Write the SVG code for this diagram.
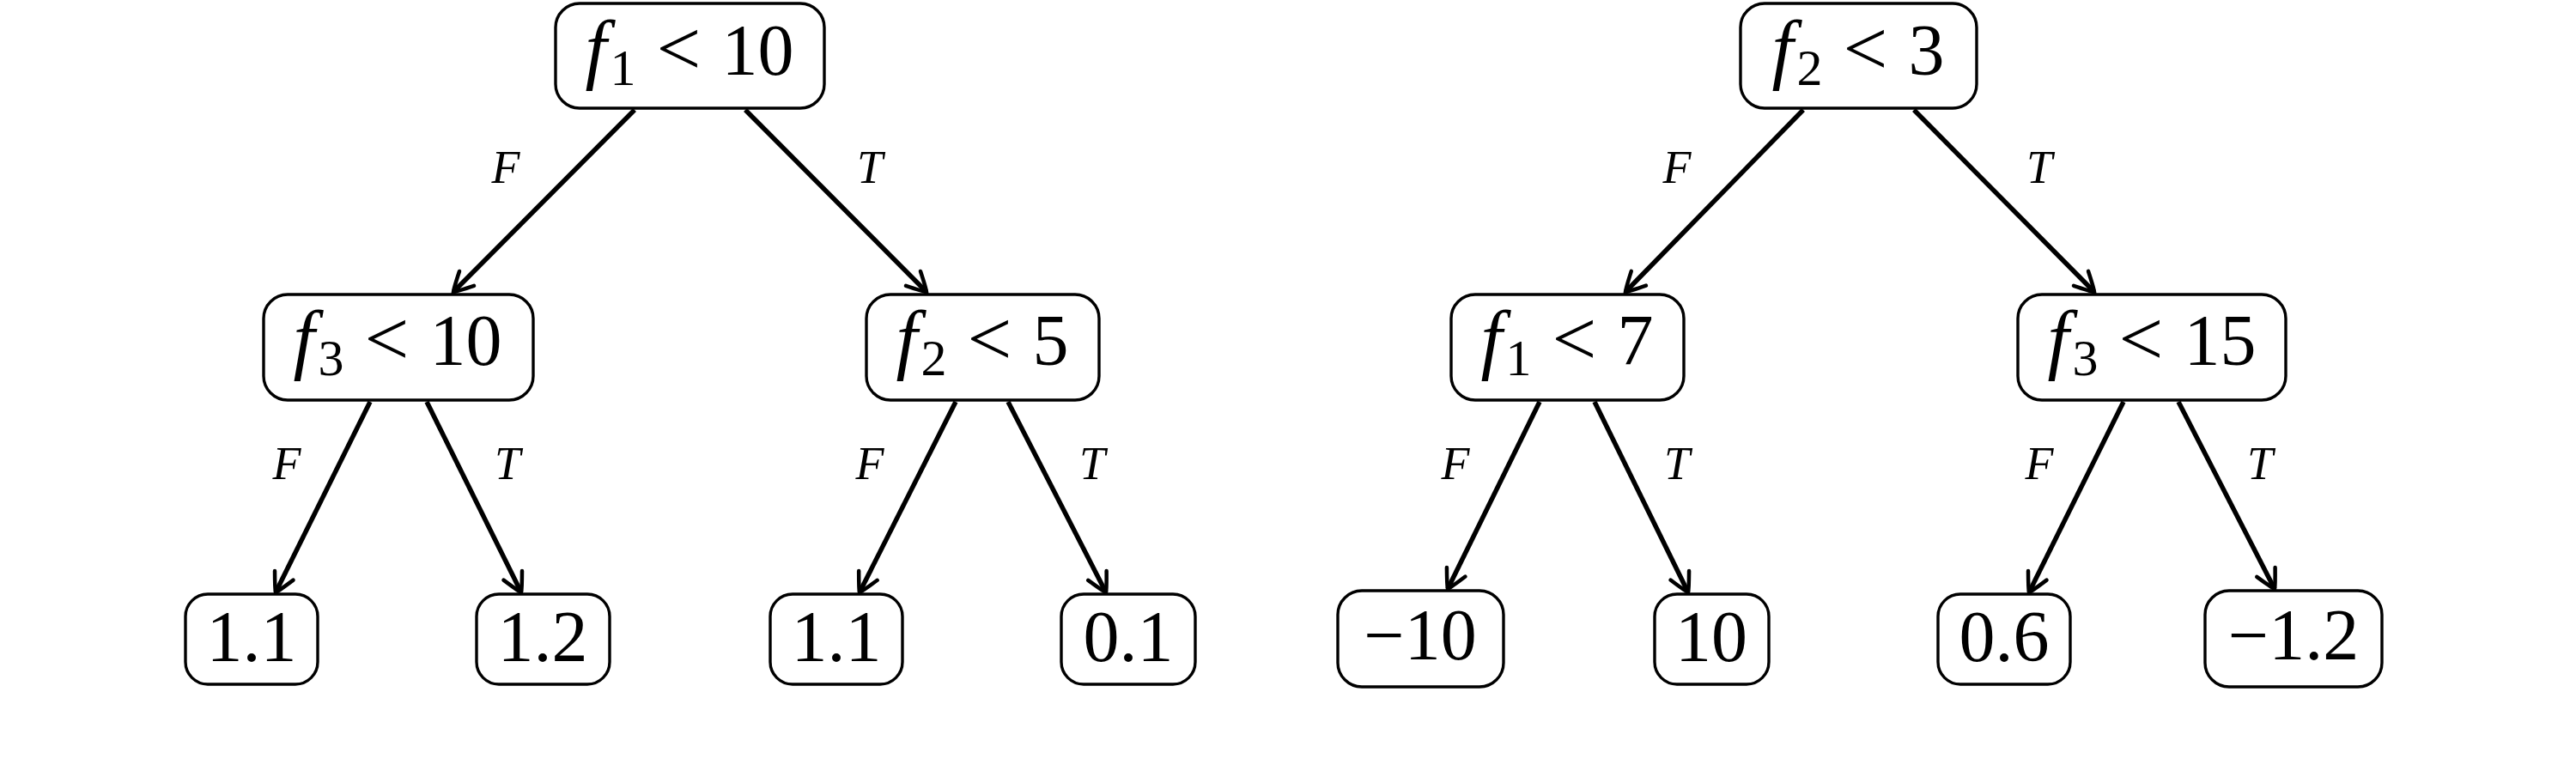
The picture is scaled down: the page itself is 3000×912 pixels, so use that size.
<svg xmlns="http://www.w3.org/2000/svg" width="3000" height="912" viewBox="0 0 3000 912">
<style>
.box{fill:#fff;stroke:#000;stroke-width:3.4}
.t{font-family:"Liberation Serif",serif;font-size:84px;fill:#000;text-anchor:middle}
.i{font-style:italic;font-size:90px}
.s{font-size:60px}
.lt{font-size:92px}
.lbl{font-family:"Liberation Serif",serif;font-size:54px;font-style:italic;fill:#000;text-anchor:middle}
.e{stroke:#000;stroke-width:5.5;fill:none;marker-end:url(#arr)}
</style>
<defs>
<marker id="arr" markerUnits="userSpaceOnUse" viewBox="-26 -14 30 28" markerWidth="30" markerHeight="28" refX="0" refY="0" orient="auto" overflow="visible">
<path d="M -22 -12 C -12 -7 -4 -3 0 0 C -4 3 -12 7 -22 12" fill="none" stroke="#000" stroke-width="4.5" stroke-linecap="round"/>
</marker>
</defs>
<rect width="3000" height="912" fill="#fff"/>
<g id="connectors">
<line class="e" x1="739" y1="128" x2="528" y2="340"/>
<line class="e" x1="868" y1="128" x2="1079" y2="340"/>
<line class="e" x1="431" y1="468" x2="321" y2="690"/>
<line class="e" x1="497" y1="468" x2="607" y2="690"/>
<line class="e" x1="1113" y1="468" x2="1001" y2="690"/>
<line class="e" x1="1174" y1="468" x2="1288" y2="690"/>
<line class="e" x1="2100" y1="128" x2="1893" y2="340"/>
<line class="e" x1="2229" y1="128" x2="2439" y2="340"/>
<line class="e" x1="1793" y1="468" x2="1686" y2="686"/>
<line class="e" x1="1857" y1="468" x2="1966" y2="690"/>
<line class="e" x1="2473" y1="468" x2="2363" y2="690"/>
<line class="e" x1="2537" y1="468" x2="2649" y2="686"/>
<text class="lbl" x="589" y="213">F</text>
<text class="lbl" x="1013" y="213">T</text>
<text class="lbl" x="334" y="558">F</text>
<text class="lbl" x="591" y="558">T</text>
<text class="lbl" x="1013" y="558">F</text>
<text class="lbl" x="1272" y="558">T</text>
<text class="lbl" x="1953" y="213">F</text>
<text class="lbl" x="2375" y="213">T</text>
<text class="lbl" x="1695" y="558">F</text>
<text class="lbl" x="1953" y="558">T</text>
<text class="lbl" x="2375" y="558">F</text>
<text class="lbl" x="2632" y="558">T</text>
</g>
<g id="n_root_left">
<rect class="box" x="647" y="4" width="313" height="122" rx="28"/>
<text class="t" x="803" y="87"><tspan class="i">f</tspan><tspan class="s" dx="4" dy="12">1</tspan><tspan class="lt" dx="24" dy="-12">&lt;</tspan><tspan dx="24">10</tspan></text>
</g>
<g id="n_f3_10">
<rect class="box" x="307" y="343" width="314" height="123" rx="28"/>
<text class="t" x="463" y="425"><tspan class="i">f</tspan><tspan class="s" dx="4" dy="12">3</tspan><tspan class="lt" dx="24" dy="-12">&lt;</tspan><tspan dx="24">10</tspan></text>
</g>
<g id="n_f2_5">
<rect class="box" x="1009" y="343" width="271" height="123" rx="28"/>
<text class="t" x="1144" y="425"><tspan class="i">f</tspan><tspan class="s" dx="4" dy="12">2</tspan><tspan class="lt" dx="24" dy="-12">&lt;</tspan><tspan dx="24">5</tspan></text>
</g>
<g id="n_l1">
<rect class="box" x="216" y="692" width="154" height="105" rx="26"/>
<text class="t" x="293" y="770">1.1</text>
</g>
<g id="n_l2">
<rect class="box" x="555" y="692" width="155" height="105" rx="26"/>
<text class="t" x="632" y="770">1.2</text>
</g>
<g id="n_l3">
<rect class="box" x="897" y="692" width="154" height="105" rx="26"/>
<text class="t" x="974" y="770">1.1</text>
</g>
<g id="n_l4">
<rect class="box" x="1236" y="692" width="156" height="105" rx="26"/>
<text class="t" x="1314" y="770">0.1</text>
</g>
<g id="n_root_right">
<rect class="box" x="2027" y="4" width="275" height="122" rx="28"/>
<text class="t" x="2164" y="87"><tspan class="i">f</tspan><tspan class="s" dx="4" dy="12">2</tspan><tspan class="lt" dx="24" dy="-12">&lt;</tspan><tspan dx="24">3</tspan></text>
</g>
<g id="n_f1_7">
<rect class="box" x="1690" y="343" width="271" height="123" rx="28"/>
<text class="t" x="1825" y="425"><tspan class="i">f</tspan><tspan class="s" dx="4" dy="12">1</tspan><tspan class="lt" dx="24" dy="-12">&lt;</tspan><tspan dx="24">7</tspan></text>
</g>
<g id="n_f3_15">
<rect class="box" x="2350" y="343" width="312" height="123" rx="28"/>
<text class="t" x="2506" y="425"><tspan class="i">f</tspan><tspan class="s" dx="4" dy="12">3</tspan><tspan class="lt" dx="24" dy="-12">&lt;</tspan><tspan dx="24">15</tspan></text>
</g>
<g id="n_r1">
<rect class="box" x="1558" y="688" width="193" height="112" rx="28"/>
<text class="t" x="1654" y="768">−10</text>
</g>
<g id="n_r2">
<rect class="box" x="1927" y="692" width="133" height="105" rx="26"/>
<text class="t" x="1993" y="770">10</text>
</g>
<g id="n_r3">
<rect class="box" x="2257" y="692" width="154" height="105" rx="26"/>
<text class="t" x="2334" y="770">0.6</text>
</g>
<g id="n_r4">
<rect class="box" x="2568" y="688" width="206" height="112" rx="28"/>
<text class="t" x="2671" y="768">−1.2</text>
</g>
</svg>
